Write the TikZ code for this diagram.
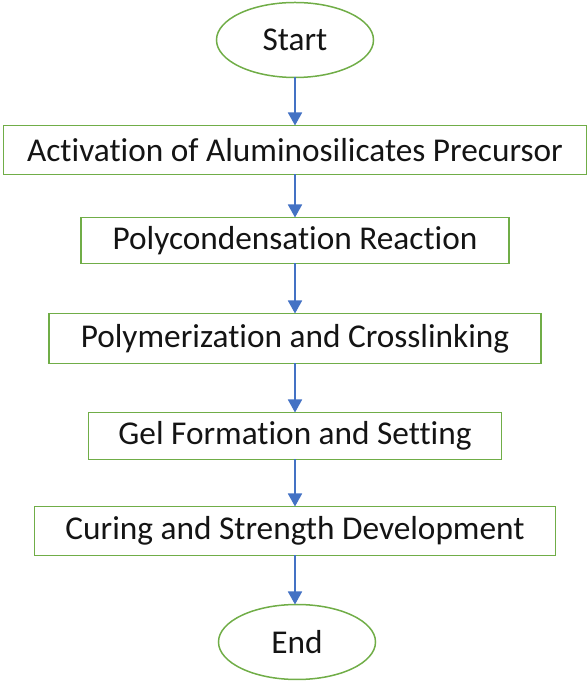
\documentclass[tikz,border=0pt]{standalone}
\usepackage{fontspec}
\setmainfont{Carlito}[Ligatures=NoCommon]
\usetikzlibrary{positioning}
\usetikzlibrary{shapes.geometric}
\usetikzlibrary{arrows.meta}
\definecolor{boxgreen}{HTML}{70AD47}
\definecolor{arrowblue}{HTML}{4472C4}
\definecolor{textgray}{HTML}{141414}

\begin{document}
\begin{tikzpicture}[x=1pt,y=1pt,
  every node/.style={draw=boxgreen,line width=1.5pt,inner sep=0pt,outer sep=0pt,text=textgray,font=\fontsize{33.3}{40}\selectfont},
  stepbox/.style={rectangle},
  term/.style={ellipse,minimum width=157pt,minimum height=75pt},
  flow/.style={draw=arrowblue,line width=1.8pt,-{Triangle[width=14pt,length=13pt]}}]
  \useasboundingbox (0,0) rectangle (588,685);
  \node[term] (start) at (295,645) {Start};
  \node[stepbox,below=48pt of start,minimum width=583pt,minimum height=49pt](activation){Activation of Aluminosilicates Precursor};
  \node[stepbox,below=43pt of activation,minimum width=428pt,minimum height=46pt](polycond){Polycondensation Reaction};
  \node[stepbox,below=50pt of polycond,minimum width=492pt,minimum height=50pt](polymer){Polymerization and Crosslinking};
  \node[stepbox,below=49pt of polymer,minimum width=413pt,minimum height=47pt](gel){Gel Formation and Setting};
  \node[stepbox,below=47pt of gel,minimum width=521pt,minimum height=49pt](curing){Curing and Strength Development};
  \node[term,below=49pt of curing,xshift=2pt](end){End};
  % arrows between the steps
  \draw[flow](start)--(activation);
  \draw[flow](activation)--(polycond);
  \draw[flow](polycond)--(polymer);
  \draw[flow](polymer)--(gel);
  \draw[flow](gel)--(curing);
  \draw[flow](curing.south)--(curing.south|-end.north);
\end{tikzpicture}
\end{document}
